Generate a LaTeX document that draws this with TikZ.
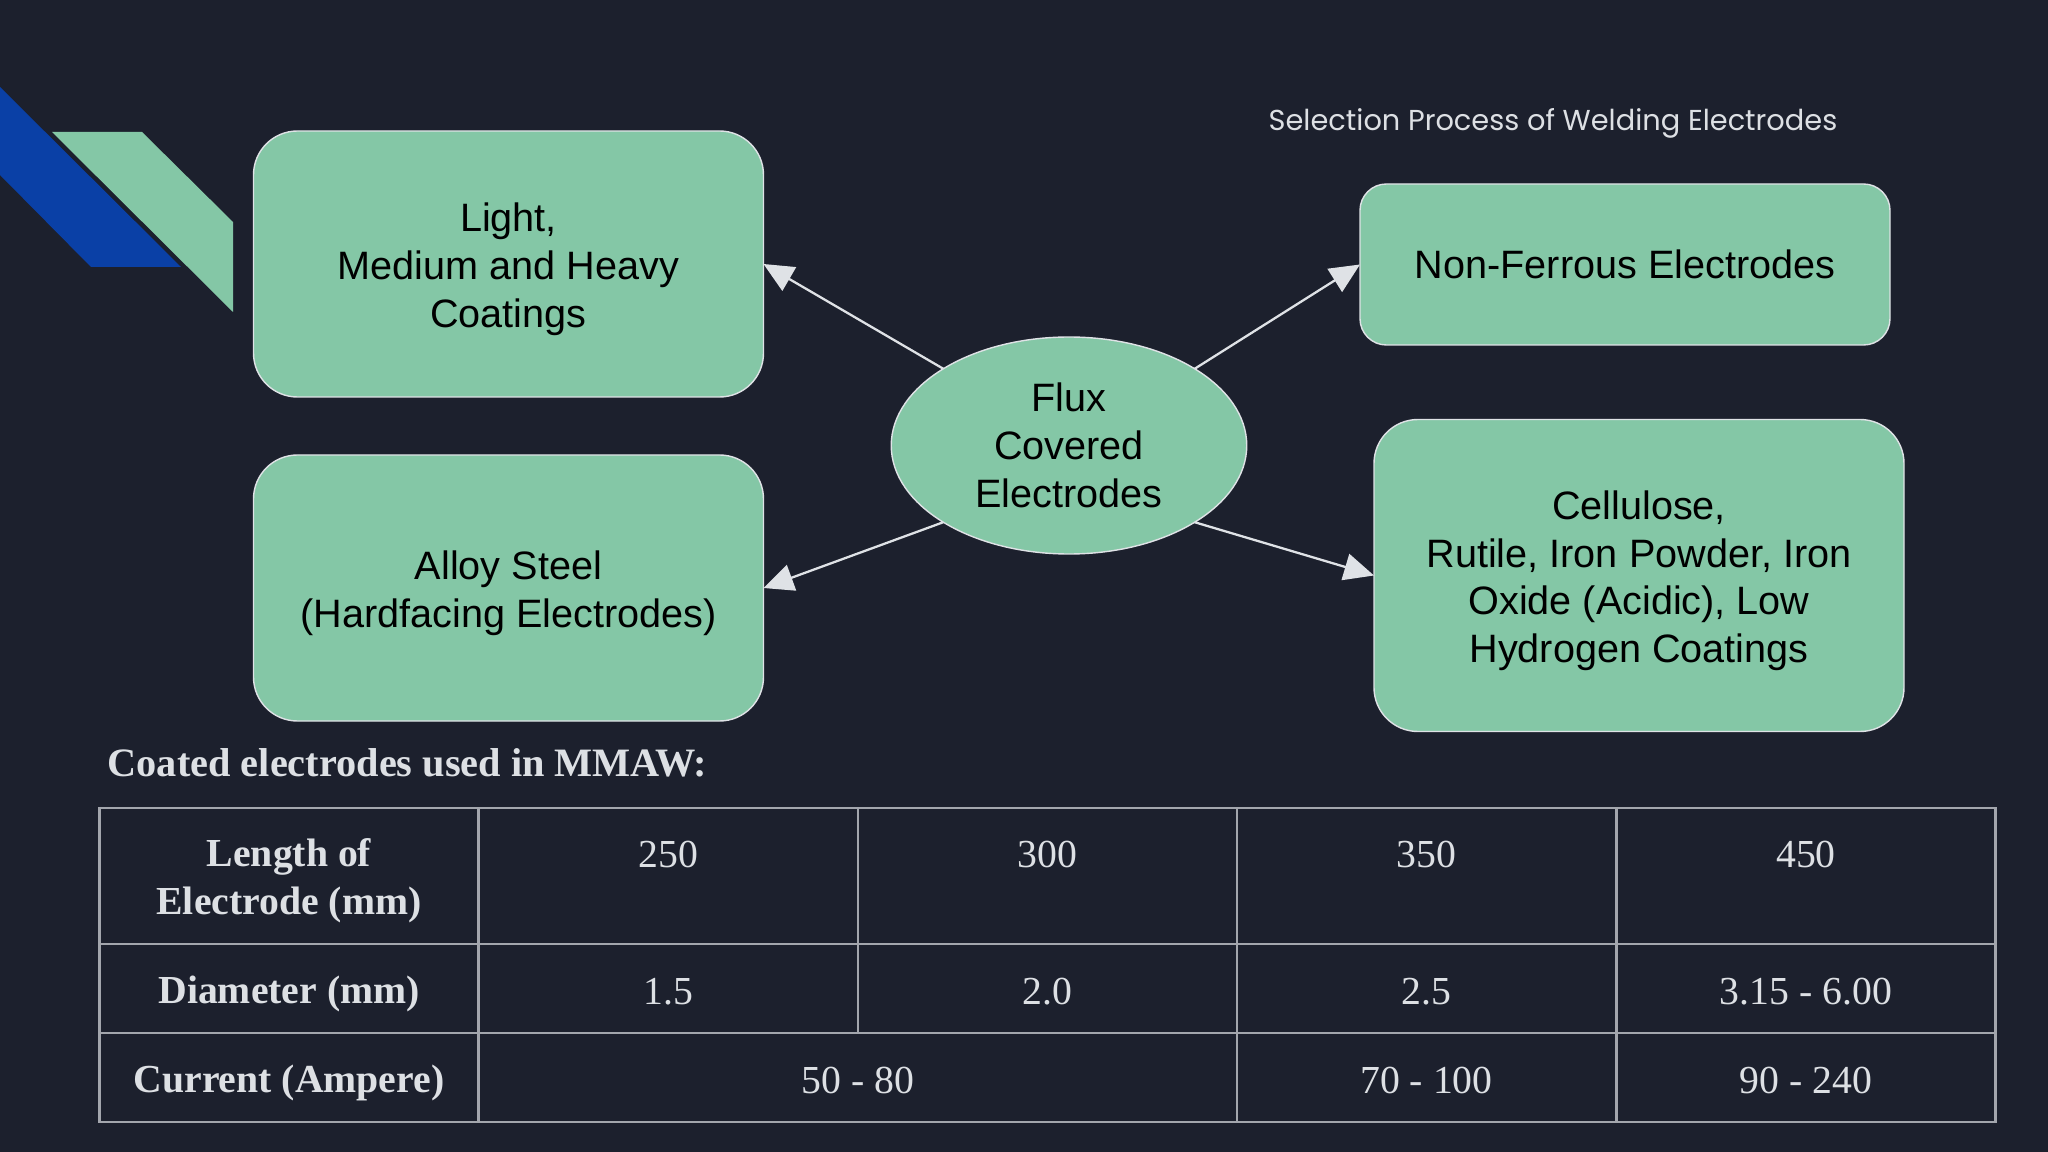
\documentclass[tikz,border=0pt]{standalone}
\usepackage{fontspec}
\usepackage{tikz}
\usetikzlibrary{arrows.meta,shapes.geometric}
\setmainfont{Liberation Serif}
\newfontfamily\arialfont{Liberation Sans}
\newfontfamily\titlefont{Poppins}
\definecolor{bgdark}{HTML}{1C202D}
\definecolor{mint}{HTML}{84C7A6}
\definecolor{ribbon}{HTML}{0A40A6}
\definecolor{paleline}{HTML}{DFE2E6}
\definecolor{gridline}{HTML}{A3A6AD}
\definecolor{paletext}{HTML}{DDE0E4}
\newcommand{\padtop}[1]{\rule{0pt}{#1}}

\begin{document}
\begin{tikzpicture}[
    box/.style={
        rectangle,
        draw=paleline,
        line width=0.4pt,
        fill=mint,
        text=black,
        align=center,
        outer sep=0pt,
        font=\arialfont\fontsize{11.27}{13.6}\selectfont,
        rounded corners=12.5pt
    },
    blob/.style={
        box,
        ellipse,
        rounded corners=0pt,
        inner sep=0pt,
        minimum width=3.555cm,
        minimum height=2.17cm
    },
    arrow/.style={
        -{Triangle[length=8.5pt,width=7.7pt]},
        line width=0.65pt,
        color=paleline
    },
    cell/.style={
        rectangle,
        draw=gridline,
        line width=0.6pt,
        text=paletext,
        align=center,
        inner sep=0pt,
        outer sep=0pt,
        minimum width=3.79cm,
        font=\fontsize{11.3}{13.6}\selectfont
    },
    head/.style={
        cell,
        font=\bfseries\fontsize{11.3}{13.6}\selectfont
    }
]

% Background
\fill[bgdark] (0,0) rectangle (20.48,-11.52);

% Corner ribbons
\fill[ribbon] (0,-0.87) -- (1.81,-2.67) -- (0.91,-2.67) -- (0,-1.75) -- cycle;
\fill[mint] (0.52,-1.32) -- (1.42,-1.32) -- (2.33,-2.22) -- (2.33,-3.12) -- cycle;

% Title
\node[text=paletext, font=\titlefont\fontsize{8.2}{10}\selectfont] (title) at (15.53,-1.23) {Selection Process of Welding Electrodes};

% Centre
\node[blob] (flux) at (10.69,-4.455) {\padtop{8.2pt}Flux\\Covered\\Electrodes};

% Left boxes
\node[box, minimum width=5.10cm, minimum height=2.66cm] (coatings) at (5.085,-2.64) {\padtop{11.2pt}Light,\\Medium and Heavy\\Coatings};
\node[box, minimum width=5.10cm, minimum height=2.66cm] (alloy) at (5.085,-5.88) {\padtop{11.2pt}Alloy Steel\\(Hardfacing Electrodes)};

% Right boxes
\node[box, minimum width=5.30cm, minimum height=1.61cm, rounded corners=7.5pt] (ferrous) at (16.25,-2.645) {\padtop{8.2pt}Non-Ferrous Electrodes};
\node[box, minimum width=5.30cm, minimum height=3.12cm] (cellulose) at (16.39,-5.755) {\padtop{11.2pt}Cellulose,\\Rutile, Iron Powder, Iron\\Oxide (Acidic), Low\\Hydrogen Coatings};

% Arrows
\draw[arrow] (flux.north west) -- (coatings.east);
\draw[arrow] (flux.south west) -- (alloy.east);
\draw[arrow] (flux.north east) -- (ferrous.west);
\draw[arrow] (flux.south east) -- (cellulose.west);

% Table caption
\node[anchor=west, inner sep=0pt, text=paletext, font=\bfseries\fontsize{11.47}{13.6}\selectfont] (caption) at (1.07,-7.63) {Coated electrodes used in MMAW:};

% Row 1
\node[head, minimum height=1.36cm] (len) at (2.89,-8.76) {\padtop{10.7pt}Length of\\Electrode (mm)};
\node[cell, minimum height=1.36cm] (lena) at (6.685,-8.76) {\padtop{9pt}250\\~};
\node[cell, minimum height=1.36cm] (lenb) at (10.475,-8.76) {\padtop{9pt}300\\~};
\node[cell, minimum height=1.36cm] (lenc) at (14.265,-8.76) {\padtop{9pt}350\\~};
\node[cell, minimum height=1.36cm] (lend) at (18.06,-8.76) {\padtop{9pt}450\\~};

% Row 2
\node[head, minimum height=0.89cm] (dia) at (2.89,-9.885) {\padtop{10.7pt}Diameter (mm)};
\node[cell, minimum height=0.89cm] (diaa) at (6.685,-9.885) {\padtop{9pt}1.5};
\node[cell, minimum height=0.89cm] (diab) at (10.475,-9.885) {\padtop{9pt}2.0};
\node[cell, minimum height=0.89cm] (diac) at (14.265,-9.885) {\padtop{9pt}2.5};
\node[cell, minimum height=0.89cm] (diad) at (18.06,-9.885) {\padtop{9pt}3.15 - 6.00};

% Row 3
\node[head, minimum height=0.89cm] (cur) at (2.89,-10.775) {\padtop{10.7pt}Current (Ampere)};
\node[cell, minimum height=0.89cm, minimum width=7.58cm] (cura) at (8.58,-10.775) {\padtop{9pt}50 - 80};
\node[cell, minimum height=0.89cm] (curb) at (14.265,-10.775) {\padtop{9pt}70 - 100};
\node[cell, minimum height=0.89cm] (curc) at (18.06,-10.775) {\padtop{9pt}90 - 240};

\end{tikzpicture}
\end{document}
